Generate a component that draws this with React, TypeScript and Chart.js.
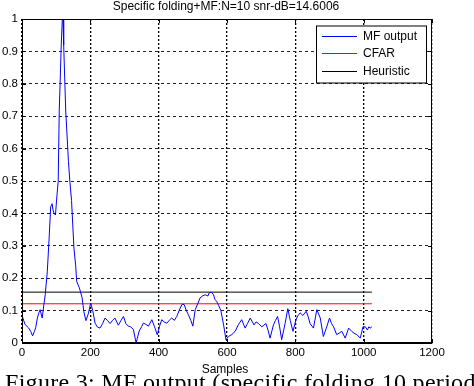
import React, { useEffect, useRef } from "react";
import { Chart, registerables } from "chart.js";

Chart.register(...registerables);

const TITLE = "Specific folding+MF:N=10 snr-dB=14.6006";
const X_LABEL = "Samples";
const CAPTION = "Figure 3: MF output (specific folding 10 periods)";

const X_MIN = 0;
const X_MAX = 1200;
const X_STEP = 200;
const Y_MIN = 0;
const Y_MAX = 1;
const Y_STEP = 0.1;

const SERIES_LABELS = ["MF output", "CFAR", "Heuristic"];
const SERIES_COLORS = ["#0000ff", "#ff0000", "#000000"];

const mfSamples = [
  1, 9, 19, 26, 31, 36, 40, 45, 50, 53, 59, 64, 68, 74, 80, 84, 88, 91, 94, 98,
  101, 106, 109, 115, 118, 120, 122, 128, 136, 140, 145, 152, 157, 160, 168, 176, 181, 187, 194, 201,
  207, 214, 220, 228, 236, 243, 250, 258, 265, 272, 282, 290, 297, 304, 311, 318, 326, 334, 343, 350,
  355, 362, 370, 380, 388, 396, 402, 409, 416, 424, 431, 438, 446, 453, 463, 469, 475, 481, 487, 494,
  500, 507, 514, 521, 528, 536, 544, 548, 554, 560, 565, 570, 576, 582, 590, 597, 604, 614, 624, 633,
  643, 653, 660, 668, 679, 685, 692, 702, 708, 714, 720, 726, 736, 742, 748, 754, 760, 770, 778, 785,
  793, 802, 808, 814, 822, 832, 838, 843, 853, 863, 868, 873, 882, 892, 900, 906, 912, 921, 928, 936,
  946, 956, 965, 972, 980, 990, 998, 1005, 1011, 1015, 1019, 1024,
];
const mfValues = [
  0.082, 0.057, 0.047, 0.035, 0.022, 0.035, 0.047, 0.077, 0.095, 0.103, 0.077, 0.118, 0.149, 0.22, 0.336, 0.42, 0.43, 0.41, 0.4, 0.395,
  0.438, 0.5, 0.716, 0.923, 1.0, 1.0, 0.92, 0.716, 0.56, 0.5, 0.44, 0.293, 0.24, 0.19, 0.17, 0.139, 0.097, 0.069, 0.09, 0.123,
  0.1, 0.061, 0.05, 0.046, 0.06, 0.077, 0.07, 0.06, 0.07, 0.077, 0.055, 0.07, 0.082, 0.06, 0.052, 0.05, 0.042, 0.0, 0.037, 0.05,
  0.061, 0.058, 0.052, 0.072, 0.05, 0.025, 0.05, 0.072, 0.065, 0.061, 0.07, 0.077, 0.07, 0.082, 0.108, 0.12, 0.118, 0.1, 0.087, 0.07,
  0.052, 0.103, 0.12, 0.139, 0.145, 0.149, 0.145, 0.155, 0.157, 0.15, 0.134, 0.128, 0.115, 0.1, 0.056, 0.01, 0.02, 0.026, 0.036, 0.056,
  0.072, 0.046, 0.06, 0.077, 0.056, 0.065, 0.06, 0.05, 0.055, 0.06, 0.04, 0.015, 0.056, 0.07, 0.082, 0.05, 0.01, 0.06, 0.106, 0.07,
  0.036, 0.072, 0.085, 0.093, 0.085, 0.098, 0.08, 0.06, 0.046, 0.103, 0.09, 0.077, 0.02, 0.05, 0.077, 0.06, 0.05, 0.026, 0.03, 0.036,
  0.015, 0.046, 0.036, 0.03, 0.026, 0.015, 0.05, 0.05, 0.04, 0.05, 0.046, 0.05,
];
const thresholdSamples = [1, 1024];
const cfarValues = [0.121, 0.121];
const heuristicValues = [0.157, 0.157];

const FONT = "Arial, 'Liberation Sans', sans-serif";

const toPoints = (xs: number[], ys: number[]) => xs.map((x, i) => ({ x, y: ys[i] }));
const fmt = (v: number) => String(Number(Number(v).toFixed(1)));

const framePlugin = {
  id: "frame",
  afterDatasetsDraw(chart: any) {
    const { ctx, chartArea } = chart;
    const { left, right, top, bottom } = chartArea;
    const xs = chart.scales.x;
    const ys = chart.scales.y;
    ctx.save();
    ctx.strokeStyle = "#000";
    ctx.lineWidth = 1;
    ctx.setLineDash([]);
    ctx.strokeRect(left + 0.5, top + 0.5, right - left - 1, bottom - top - 1);
    const tl = 4;
    ctx.beginPath();
    for (let v = X_MIN; v <= X_MAX; v += X_STEP) {
      const px = Math.round(xs.getPixelForValue(v)) + 0.5;
      ctx.moveTo(px, bottom);
      ctx.lineTo(px, bottom - tl);
      ctx.moveTo(px, top);
      ctx.lineTo(px, top + tl);
    }
    for (let i = 0; i <= Math.round((Y_MAX - Y_MIN) / Y_STEP); i++) {
      const v = Y_MIN + i * Y_STEP;
      const py = Math.round(ys.getPixelForValue(v)) + 0.5;
      ctx.moveTo(left, py);
      ctx.lineTo(left + tl, py);
      ctx.moveTo(right, py);
      ctx.lineTo(right - tl, py);
    }
    ctx.stroke();
    ctx.restore();
  },
};

const legendPlugin = {
  id: "boxLegend",
  afterDatasetsDraw(chart: any) {
    const { ctx, chartArea } = chart;
    const bx = chartArea.right - 116;
    const by = chartArea.top + 6.5;
    const bw = 110;
    const bh = 57;
    ctx.save();
    ctx.fillStyle = "#fff";
    ctx.fillRect(bx, by, bw, bh);
    ctx.strokeStyle = "#000";
    ctx.lineWidth = 1;
    ctx.strokeRect(bx + 0.5, by + 0.5, bw, bh);
    ctx.font = `12px ${FONT}`;
    ctx.textBaseline = "middle";
    ctx.textAlign = "left";
    chart.data.datasets.forEach((ds: any, i: number) => {
      const y = Math.round(by + 10 + i * 17.7) + 0.5;
      ctx.strokeStyle = ds.borderColor;
      ctx.beginPath();
      ctx.moveTo(bx + 6, y);
      ctx.lineTo(bx + 41, y);
      ctx.stroke();
      ctx.fillStyle = "#000";
      ctx.fillText(ds.label, bx + 47, y + 0.5);
    });
    ctx.restore();
  },
};

const textPlugin = {
  id: "texts",
  afterDraw(chart: any) {
    const { ctx, chartArea } = chart;
    const cx = (chartArea.left + chartArea.right) / 2;
    ctx.save();
    ctx.fillStyle = "#000";
    ctx.textAlign = "center";
    ctx.textBaseline = "alphabetic";
    ctx.font = `12px ${FONT}`;
    ctx.fillText(TITLE, cx - 1, 10);
    ctx.fillText(X_LABEL, cx - 2, 373);
    ctx.restore();
  },
};

export default function App() {
  const ref = useRef<HTMLCanvasElement | null>(null);
  useEffect(() => {
    if (!ref.current) return;
    const chart = new Chart(ref.current, {
      type: "line",
      data: {
        datasets: [
          {
            label: SERIES_LABELS[0],
            data: toPoints(mfSamples, mfValues),
            borderColor: SERIES_COLORS[0],
            borderWidth: 1,
            pointRadius: 0,
            tension: 0,
          },
          {
            label: SERIES_LABELS[1],
            data: toPoints(thresholdSamples, cfarValues),
            borderColor: SERIES_COLORS[1],
            borderWidth: 1,
            pointRadius: 0,
          },
          {
            label: SERIES_LABELS[2],
            data: toPoints(thresholdSamples, heuristicValues),
            borderColor: SERIES_COLORS[2],
            borderWidth: 1,
            pointRadius: 0,
          },
        ],
      },
      options: {
        animation: false,
        responsive: false,
        devicePixelRatio: 1,
        layout: { padding: { left: 0, top: 19, right: 42, bottom: 0 } },
        plugins: { legend: { display: false }, tooltip: { enabled: false }, title: { display: false } },
        scales: {
          x: {
            type: "linear",
            min: X_MIN,
            max: X_MAX,
            ticks: {
              stepSize: X_STEP,
              color: "#000",
              font: { family: FONT, size: 11.5 },
              padding: 3,
              maxRotation: 0,
              callback: (v: any) => String(v),
            },
            grid: { color: "#000", lineWidth: 1.3, drawTicks: false },
            border: { display: true, color: "#000", dash: [2, 2] },
            afterFit: (s: any) => {
              s.height = 43;
            },
          },
          y: {
            type: "linear",
            min: Y_MIN,
            max: Y_MAX,
            ticks: {
              stepSize: Y_STEP,
              color: "#000",
              font: { family: FONT, size: 11.5 },
              padding: 4,
              callback: (v: any) => fmt(v),
            },
            grid: { color: "#222", lineWidth: 1, drawTicks: false },
            border: { display: true, color: "#000", dash: [3, 3] },
            afterFit: (s: any) => {
              s.width = 22;
            },
          },
        },
      },
      plugins: [framePlugin, legendPlugin, textPlugin],
    });
    return () => chart.destroy();
  }, []);

  return (
    <div style={{ position: "absolute", left: 0, top: 0, width: 474, height: 386, overflow: "hidden", background: "#fff" }}>
      <canvas ref={ref} width={474} height={386} style={{ display: "block" }} />
      <div
        style={{
          position: "absolute",
          left: 5,
          top: 370,
          whiteSpace: "nowrap",
          fontFamily: "'Liberation Serif', 'Times New Roman', serif",
          fontSize: 24,
          lineHeight: "24px",
          letterSpacing: 0.3,
          color: "#000",
        }}
      >
        {CAPTION}
      </div>
    </div>
  );
}
